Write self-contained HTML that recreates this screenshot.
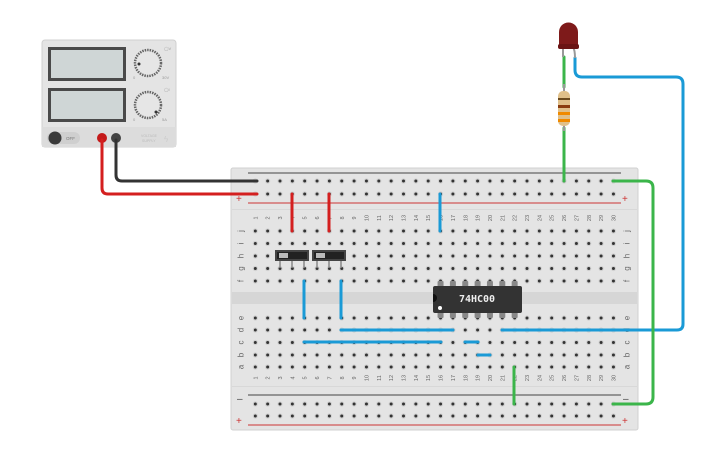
<!DOCTYPE html>
<html><head><meta charset="utf-8">
<style>html,body{margin:0;padding:0;background:#fff;width:725px;height:453px;overflow:hidden}svg{display:block}</style>
</head><body>
<svg id="s" width="725" height="453" viewBox="0 0 725 453" xmlns="http://www.w3.org/2000/svg" font-family="Liberation Sans, sans-serif">
<!-- power supply -->
<rect x="42" y="40" width="134" height="107" rx="3" fill="#e4e4e4" stroke="#d0d0d0"/>
<rect x="42" y="127" width="134" height="20" fill="#dcdcdc"/>
<rect x="48" y="47" width="78" height="34" fill="#4a4a4a"/><rect x="51" y="50" width="72" height="28" fill="#cfd6d6"/>
<rect x="48" y="88" width="78" height="34" fill="#4a4a4a"/><rect x="51" y="91" width="72" height="28" fill="#cfd6d6"/>
<circle cx="148" cy="63" r="13" fill="#e6e6e6" stroke="#666" stroke-width="2.5" stroke-dasharray="1.5 1"/>
<circle cx="139" cy="64" r="1.5" fill="#333"/>
<circle cx="148" cy="105" r="13" fill="#e6e6e6" stroke="#666" stroke-width="2.5" stroke-dasharray="1.5 1"/>
<circle cx="156" cy="112" r="1.5" fill="#333"/>
<text x="164" y="50" font-size="4" fill="#999">◯V</text><text x="164" y="91" font-size="4" fill="#999">◯I</text>
<text x="133" y="79" font-size="4" fill="#999">0</text><text x="162" y="79" font-size="4" fill="#999">30V</text>
<text x="133" y="121" font-size="4" fill="#999">0</text><text x="162" y="121" font-size="4" fill="#999">5A</text>
<rect x="47" y="132" width="33" height="12" rx="6" fill="#cfcfcf"/><circle cx="55" cy="138" r="6.5" fill="#3a3a3a"/>
<text x="66" y="140" font-size="4.5" fill="#777">OFF</text>
<circle cx="102" cy="138" r="5" fill="#c41a1a"/><circle cx="116" cy="138" r="5" fill="#444"/>
<text x="141" y="137" font-size="3.5" fill="#bbb">VOLTAGE</text><text x="142" y="142" font-size="3.5" fill="#bbb">SUPPLY</text>
<text x="164" y="142" font-size="8" fill="#ccc">ϟ</text>
<!-- breadboard -->
<rect x="231" y="168" width="407" height="262" rx="2" fill="#e4e4e4" stroke="#d0d0d0"/>
<rect x="232" y="209" width="405" height="1" fill="#d8d8d8"/>
<rect x="232" y="386" width="405" height="1" fill="#d8d8d8"/>
<rect x="232" y="292" width="405" height="12" fill="#d6d6d6"/>
<line x1="248" y1="173" x2="621" y2="173" stroke="#444" stroke-width="1"/>
<line x1="248" y1="203" x2="621" y2="203" stroke="#c33" stroke-width="1"/>
<line x1="248" y1="395" x2="621" y2="395" stroke="#444" stroke-width="1"/>
<line x1="248" y1="425" x2="621" y2="425" stroke="#c33" stroke-width="1"/>
<g font-size="10" fill="#444"><text x="237" y="184">–</text><text x="236" y="202" fill="#c33">+</text>
<text x="623" y="184">–</text><text x="622" y="202" fill="#c33">+</text>
<text x="237" y="402">–</text><text x="236" y="424" fill="#c33">+</text>
<text x="623" y="402">–</text><text x="622" y="424" fill="#c33">+</text></g>
<g id="holes"></g>
<g id="labels" font-size="7" fill="#666"></g>
<!-- wires -->
<g fill="none" stroke-width="3" stroke-linecap="round" stroke-linejoin="round">
<path d="M102,140 V188 Q102,194 108,194 H257" stroke="#d41f1f"/>
<path d="M116,140 V175 Q116,181 122,181 H257" stroke="#333"/>
<path d="M292,194 V231 M329,194 V231" stroke="#d41f1f"/>
<path d="M440,194 V231 M304,281 V318 M341,281 V318 M341,330 H453 M304,342 H441 M465,342 H478 M478,355 H490" stroke="#1a9ad6"/>
<path d="M502,330 H677 Q683,330 683,324 V84 Q683,77 676,77 H582 Q575,77 575,70 V58" stroke="#1a9ad6"/>
<path d="M514,367 V404" stroke="#3bb54a"/>
<path d="M564,181 V128 M564,87 V57" stroke="#3bb54a"/>
<path d="M613,181 H646 Q653,181 653,188 V397 Q653,404 646,404 H613" stroke="#3bb54a"/>
</g>
<!-- switches -->
<g stroke="#888" stroke-width="1.5"><path d="M280,261V268M292,261V268M304,261V268M317,261V268M329,261V268M341,261V268"/></g>
<rect x="275" y="250" width="34" height="11" fill="#444"/><rect x="277" y="252" width="30" height="7" fill="#222"/><rect x="279" y="253" width="9" height="5" fill="#bbb"/>
<rect x="312" y="250" width="34" height="11" fill="#444"/><rect x="314" y="252" width="30" height="7" fill="#222"/><rect x="316" y="253" width="9" height="5" fill="#bbb"/>
<!-- IC -->
<g id="pins" fill="#888"></g>
<rect x="433" y="286" width="89" height="27" rx="2" fill="#333"/>
<path d="M433,294 A4,4 0 0 1 433,302" fill="#111"/>
<circle cx="440" cy="308" r="2" fill="#fff"/>
<text x="477" y="302" font-size="10" font-weight="bold" fill="#eee" text-anchor="middle" font-family="DejaVu Sans Mono, monospace">74HC00</text>
<!-- LED & resistor -->
<path d="M563,46 V57" stroke="#999" stroke-width="2"/><path d="M573,47 Q575,50 575,58" stroke="#999" stroke-width="2" fill="none"/>
<path d="M559,48 V32 A9.5,9.5 0 0 1 578,32 V48 Z" fill="#7e1a1a"/><rect x="558" y="44" width="21" height="5" rx="2" fill="#6a1414"/>
<path d="M564,84 V131" stroke="#999" stroke-width="2"/>
<rect x="558" y="91" width="12" height="35" rx="5" fill="#e0c08a"/>
<rect x="558" y="98" width="12" height="2" fill="#6b4a1e"/><rect x="558" y="105" width="12" height="3" fill="#8b3d10"/>
<rect x="558" y="112" width="12" height="3" fill="#f08a00"/><rect x="558" y="119" width="12" height="3" fill="#f08a00"/>
</svg>
<script>
var NS="http://www.w3.org/2000/svg";
function el(p,t,a,txt){var e=document.createElementNS(NS,t);for(var k in a)e.setAttribute(k,a[k]);if(txt)e.textContent=txt;document.getElementById(p).appendChild(e);}
function cx(c){return 255.3+(c-1)*12.35;}
var rows=[181,194,231,243.5,256,268.5,281,318,330,342.5,355,367,404,416];
for(var c=1;c<=30;c++)for(var r=0;r<rows.length;r++){el("holes","circle",{cx:cx(c),cy:rows[r],r:2.6,fill:"#d0d0d0"});el("holes","circle",{cx:cx(c),cy:rows[r],r:1.5,fill:"#333"});}
var L=["j","i","h","g","f","e","d","c","b","a"],LY=[231,243.5,256,268.5,281,318,330,342.5,355,367];
for(var i=0;i<10;i++){[241,627].forEach(function(x){el("labels","text",{x:x,y:LY[i]+2.5,"text-anchor":"middle",transform:"rotate(-90 "+x+" "+LY[i]+")","font-size":"8"},L[i]);});}
for(var c=1;c<=30;c++){[218,378].forEach(function(y){var x=cx(c);el("labels","text",{x:x,y:y+2,"text-anchor":"middle",transform:"rotate(-90 "+x+" "+y+")","font-size":"5.5"},String(c));});}
for(var c=16;c<=22;c++){el("pins","rect",{x:cx(c)-3,y:281,width:6,height:6,rx:1});el("pins","rect",{x:cx(c)-3,y:312,width:6,height:6,rx:1});}
</script>
</body></html>
